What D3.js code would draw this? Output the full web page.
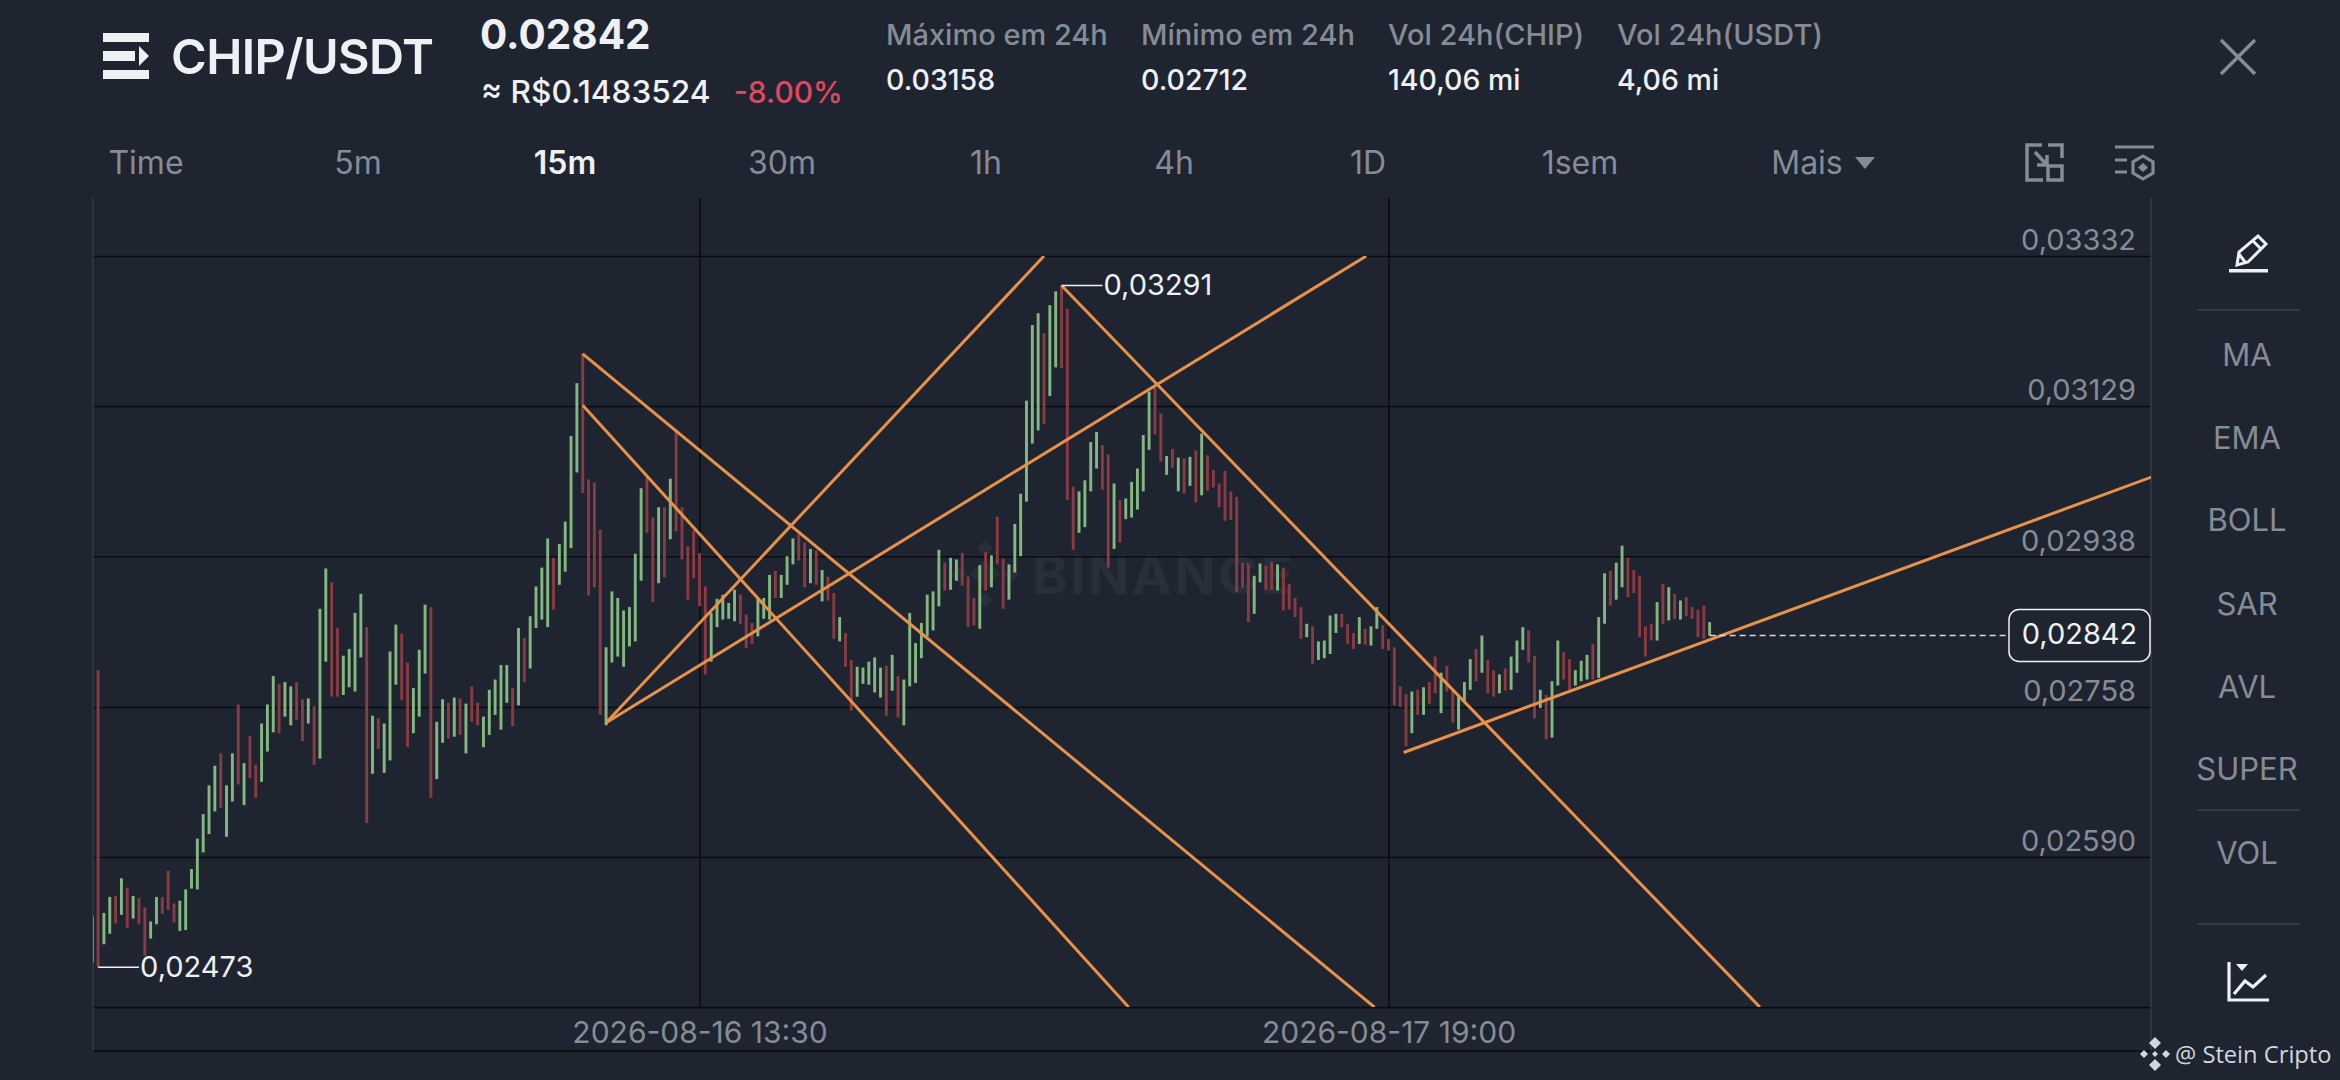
<!DOCTYPE html>
<html>
<head>
<meta charset="utf-8">
<script src="https://cdn.jsdelivr.net/npm/d3@7"></script>
<style>
  html, body { margin: 0; padding: 0; background: #1e2530; overflow: hidden; }
  text { font-family: Inter, "Noto Sans", sans-serif; }
</style>
</head>
<body>
<div id="chart"></div>
<script>
// Bars, in price ticks of 0.00001 USDT, one every 15 minutes
var barHigh = [
  2526,2801,2530,2547,2548,2567,2557,2548,2546,2536,
  2521,2547,2547,2575,2540,2543,2555,2577,2610,2637,
  2669,2691,2705,2669,2705,2761,2694,2725,2692,2739,
  2761,2794,2785,2787,2782,2787,2767,2768,2759,2874,
  2923,2906,2851,2818,2826,2869,2892,2852,2748,2745,
  2739,2823,2855,2844,2810,2780,2825,2879,2876,2741,
  2767,2763,2769,2768,2762,2782,2763,2747,2778,2790,
  2807,2807,2780,2851,2839,2865,2901,2924,2960,2936,
  2953,2981,3090,3159,3199,3034,3030,2971,2828,2895,
  2887,2872,2876,2941,3023,3037,2986,2999,2999,3035,
  3095,2999,2950,2970,2942,2901,2869,2886,2891,2881,
  2897,2891,2867,2857,2887,2887,2915,2920,2915,2938,
  2960,2965,2955,2947,2945,2921,2913,2893,2864,2845,
  2813,2805,2804,2811,2816,2804,2806,2819,2794,2790,
  2869,2833,2857,2891,2895,2946,2930,2936,2934,2942,
  2913,2887,2927,2943,2939,2987,2935,2928,2978,3016,
  3136,3237,3253,3226,3264,3283,3291,3259,3025,3019,
  3033,3082,3095,3078,3066,3029,3008,3010,3031,3048,
  3091,3148,3153,3119,3064,3073,3062,3061,3063,3071,
  3093,3065,3046,3029,3045,3019,3012,2930,2929,2914,
  2929,2926,2931,2928,2924,2904,2887,2876,2856,2853,
  2835,2836,2866,2868,2868,2856,2845,2864,2850,2853,
  2876,2854,2838,2828,2782,2773,2776,2778,2781,2787,
  2817,2798,2806,2778,2771,2787,2814,2826,2842,2813,
  2801,2796,2803,2817,2836,2852,2848,2818,2778,2772,
  2788,2836,2822,2814,2801,2812,2819,2832,2864,2917,
  2920,2930,2951,2936,2921,2914,2853,2856,2882,2904,
  2900,2892,2884,2888,2876,2873,2878,2858
];
var barLow = [
  2478,2473,2497,2508,2519,2528,2514,2524,2518,2485,
  2503,2518,2529,2533,2520,2511,2512,2556,2555,2595,
  2615,2640,2644,2612,2651,2670,2647,2677,2655,2673,
  2707,2729,2728,2747,2737,2743,2719,2739,2692,2699,
  2811,2770,2770,2772,2781,2776,2816,2627,2682,2710,
  2683,2697,2784,2766,2712,2728,2747,2797,2655,2676,
  2717,2722,2724,2726,2705,2741,2737,2712,2726,2749,
  2732,2763,2736,2760,2787,2803,2851,2861,2852,2873,
  2903,2919,2948,3043,3017,2890,2900,2749,2737,2810,
  2817,2805,2829,2835,2908,2967,2882,2905,2912,2959,
  2969,2934,2885,2911,2877,2796,2811,2852,2861,2862,
  2859,2856,2827,2832,2841,2862,2861,2887,2887,2903,
  2928,2933,2900,2905,2903,2883,2884,2838,2835,2805,
  2754,2770,2785,2784,2775,2769,2748,2777,2746,2737,
  2782,2786,2815,2841,2848,2877,2896,2897,2908,2902,
  2852,2854,2850,2896,2900,2928,2874,2885,2918,2938,
  3006,3080,3097,3105,3142,3180,3179,3008,2946,2967,
  2974,3019,3048,3021,2924,2947,2955,2984,2986,2996,
  3019,3072,3092,3057,3040,3049,3019,3016,3026,3005,
  3014,3020,3024,2999,2982,2983,2894,2900,2858,2868,
  2906,2897,2897,2896,2872,2873,2864,2838,2840,2808,
  2813,2815,2820,2845,2852,2832,2826,2832,2831,2830,
  2850,2826,2824,2760,2758,2713,2728,2749,2749,2762,
  2774,2751,2776,2740,2732,2765,2778,2788,2798,2774,
  2770,2774,2777,2778,2798,2825,2810,2745,2757,2721,
  2723,2783,2790,2778,2783,2788,2790,2790,2792,2856,
  2878,2885,2900,2888,2893,2840,2817,2836,2836,2856,
  2860,2862,2861,2865,2862,2840,2838,2842
];
// 1 = closed up (green), 0 = closed down (red)
var barUp = [
  1,0,1,1,0,1,0,1,0,0,
  1,1,0,0,0,1,1,1,1,1,
  1,1,0,1,1,0,1,0,0,1,
  1,1,0,1,1,0,0,1,0,1,
  1,0,0,1,1,1,1,0,1,0,
  1,1,1,0,0,1,1,1,0,1,
  1,0,1,0,1,0,0,1,1,1,
  1,1,0,1,0,1,1,1,1,0,
  1,1,1,1,0,0,0,0,1,1,
  1,1,1,1,1,0,0,1,0,1,
  0,0,0,0,0,0,1,1,1,1,
  1,0,0,0,1,1,1,0,1,1,
  1,0,0,1,0,1,0,0,1,0,
  0,1,1,1,1,1,0,1,0,1,
  1,1,1,1,1,1,0,1,1,0,
  0,0,1,0,1,0,0,1,1,1,
  1,1,1,0,1,1,0,0,0,1,
  1,1,1,0,0,1,0,1,1,1,
  1,1,0,0,1,0,1,0,1,0,
  1,0,0,0,0,0,0,0,0,1,
  1,0,0,1,0,0,0,0,1,0,
  1,1,1,1,0,0,0,1,0,1,
  1,0,0,0,0,0,1,0,1,0,
  0,1,0,0,1,1,1,0,1,0,
  0,1,0,1,1,1,0,0,1,0,
  1,1,0,0,1,1,1,0,1,1,
  0,1,1,0,0,0,0,0,1,0,
  1,0,1,0,0,0,0,1
];
var firstBarTime = "2026-08-15 11:30";
var barMinutes = 15;

// Drawn trend lines: [bar number, price tick] at each end
var trendLines = [
  [[84, 3198], [219.6, 2432]],
  [[84, 3130], [177.5, 2432]],
  [[88, 2740], [163, 3332]],
  [[88, 2740], [218.2, 3332]],
  [[166, 3291], [285.6, 2432]],
  [[224.6, 2706], [353, 3038]]
];

var priceGrid = [3332, 3129, 2938, 2758, 2590, 2432];
var priceLabels = [3332, 3129, 2938, 2758, 2590];
var timeTicks = ["2026-08-16 13:30", "2026-08-17 19:00"];
var lastPrice = 2842;

var pairName = "CHIP/USDT";
var headPrice = "0.02842", headFiat = "≈ R$0.1483524", headChange = "-8.00%";
var statNames = ["Máximo em 24h", "Mínimo em 24h", "Vol 24h(CHIP)", "Vol 24h(USDT)"];
var statValues = ["0.03158", "0.02712", "140,06 mi", "4,06 mi"];
var tabNames = ["Time", "5m", "15m", "30m", "1h", "4h", "1D", "1sem", "Mais"];
var sideNames = ["MA", "EMA", "BOLL", "SAR", "AVL", "SUPER", "VOL"];

var w = 2340, h = 1080;
var bg = "#1e2530", greyText = "#868c96", whiteText = "#eef0f3";
var gridColor = "#0a0c10", borderColor = "#3a414c", orange = "#e8914a";
var green = "#84b782", red = "#8a3a43";

var svg = d3.select("#chart").append("svg").attr("width", w).attr("height", h).style("display", "block");
svg.append("rect").attr("width", w).attr("height", h).attr("fill", bg);

var parseTime = d3.utcParse("%Y-%m-%d %H:%M");
var formatTime = d3.utcFormat("%Y-%m-%d %H:%M");
function barTime(i) {
  return new Date(parseTime(firstBarTime).getTime() + i * barMinutes * 60000);
}

var x = d3.scaleUtc().domain(timeTicks.map(parseTime)).range([699.5, 1388.5]);
var y = d3.scaleLog().domain([3332, 2590]).range([256, 857]);

var left = 93, right = 2151, top_ = 198, plotTop = 256, plotBottom = 1007, axisBottom = 1051;

var comma = d3.formatLocale({ decimal: ",", thousands: ".", grouping: [3], currency: ["", ""] }).format(".5f");
function priceText(t) { return comma(t / 100000); }

svg.append("defs").append("clipPath").attr("id", "plotClip").append("rect")
    .attr("x", left).attr("y", plotTop).attr("width", right - left).attr("height", plotBottom - plotTop);
svg.select("defs").append("clipPath").attr("id", "barClip").append("rect")
    .attr("x", left).attr("y", top_).attr("width", right - left).attr("height", axisBottom - top_);

// Watermark
var mark = svg.append("g").attr("fill", "#292f3a");
mark.append("text").attr("x", 1032).attr("y", 594)
    .attr("font-size", 54).attr("font-weight", 700).attr("letter-spacing", 2.5).text("BINANCE");
mark.selectAll("path").data([[985, 574, 15], [985, 548, 8], [985, 600, 8], [959, 574, 8], [1011, 574, 8]]).enter()
    .append("path")
    .attr("d", function (d) { return "M" + d[0] + "," + (d[1] - d[2]) + "l" + d[2] + "," + d[2] + "l" + (-d[2]) + "," + d[2] + "l" + (-d[2]) + "," + (-d[2]) + "z"; });

// Grid lines and axes
var yAxis = svg.append("g").attr("transform", "translate(" + right + ",0)")
    .call(d3.axisLeft(y).tickValues(priceGrid).tickSize(right - left).tickFormat(function (d) {
      return priceLabels.indexOf(d) >= 0 ? priceText(d) : "";
    }));
yAxis.select(".domain").remove();
yAxis.selectAll("line").attr("stroke", gridColor).attr("stroke-width", 1.6);
yAxis.selectAll("text")
    .attr("x", -15).attr("dy", 0).attr("y", -14).attr("dominant-baseline", "middle")
    .attr("text-anchor", "end").attr("fill", greyText).attr("font-size", 29)
    .style("font-family", "Inter, sans-serif");

var xAxis = svg.append("g").attr("transform", "translate(0," + plotBottom + ")")
    .call(d3.axisBottom(x).tickValues(timeTicks.map(parseTime)).tickSize(-(plotBottom - top_)).tickFormat(formatTime));
xAxis.select(".domain").remove();
xAxis.selectAll("line").attr("stroke", gridColor).attr("stroke-width", 1.6);
xAxis.selectAll("text")
    .attr("y", 28).attr("dy", 0).attr("dominant-baseline", "middle")
    .attr("fill", greyText).attr("font-size", 30)
    .style("font-family", "Inter, sans-serif");

svg.append("line").attr("x1", left).attr("x2", right).attr("y1", axisBottom).attr("y2", axisBottom)
    .attr("stroke", gridColor).attr("stroke-width", 1.6);
svg.selectAll(".border").data([left, right]).enter().append("line").attr("class", "border")
    .attr("x1", function (d) { return d; }).attr("x2", function (d) { return d; })
    .attr("y1", top_).attr("y2", axisBottom)
    .attr("stroke", borderColor).attr("stroke-width", 1.2);

// Bars
var barW = 2.9;
svg.append("g").attr("clip-path", "url(#barClip)").selectAll("rect").data(barHigh).enter().append("rect")
    .attr("x", function (d, i) { return x(barTime(i)) - barW / 2; })
    .attr("y", function (d) { return y(d); })
    .attr("width", barW)
    .attr("height", function (d, i) { return y(barLow[i]) - y(d); })
    .attr("fill", function (d, i) { return barUp[i] ? green : red; });

// Trend lines
svg.append("g").attr("clip-path", "url(#plotClip)").selectAll("line").data(trendLines).enter().append("line")
    .attr("x1", function (d) { return x(barTime(d[0][0])); })
    .attr("y1", function (d) { return y(d[0][1]); })
    .attr("x2", function (d) { return x(barTime(d[1][0])); })
    .attr("y2", function (d) { return y(d[1][1]); })
    .attr("stroke", orange).attr("stroke-width", 3);

// High and low markers
function extremeLabel(value, index) {
  var px = x(barTime(index)), py = y(value);
  svg.append("line").attr("x1", px).attr("x2", px + 41).attr("y1", py).attr("y2", py)
      .attr("stroke", whiteText).attr("stroke-width", 1.5);
  svg.append("text").attr("x", px + 42).attr("y", py + 2).attr("dominant-baseline", "middle")
      .attr("fill", whiteText).attr("font-size", 29).text(priceText(value));
}
var highMax = d3.max(barHigh), lowMin = d3.min(barLow);
extremeLabel(highMax, barHigh.indexOf(highMax));
extremeLabel(lowMin, barLow.indexOf(lowMin));

// Last price
var lastX = x(barTime(barHigh.length - 1)), lastY = y(lastPrice);
svg.append("line").attr("x1", lastX).attr("x2", 2009).attr("y1", lastY).attr("y2", lastY)
    .attr("stroke", "#d8dbe0").attr("stroke-width", 1.5).attr("stroke-dasharray", "6,4");
svg.append("rect").attr("x", 2009).attr("y", lastY - 26).attr("width", 141).attr("height", 52).attr("rx", 10)
    .attr("fill", bg).attr("stroke", whiteText).attr("stroke-width", 1.5);
svg.append("text").attr("x", 2079.5).attr("y", lastY + 1).attr("text-anchor", "middle").attr("dominant-baseline", "middle")
    .attr("fill", whiteText).attr("font-size", 29).text(priceText(lastPrice));

// Header
var head = svg.append("g");
head.selectAll(".menuBar").data([[103, 33, 46, 9], [103, 51, 32, 10], [103, 70, 46, 9]]).enter().append("rect")
    .attr("x", function (d) { return d[0]; }).attr("y", function (d) { return d[1]; })
    .attr("width", function (d) { return d[2]; }).attr("height", function (d) { return d[3]; })
    .attr("fill", whiteText);
head.append("path").attr("d", "M139,46L149,56L139,66Z").attr("fill", whiteText);
head.append("text").attr("x", 171).attr("y", 74).attr("fill", whiteText)
    .attr("font-size", 48.5).attr("font-weight", 600).attr("letter-spacing", -0.6).text(pairName);
head.append("text").attr("x", 480).attr("y", 49).attr("fill", whiteText)
    .attr("font-size", 40.5).attr("font-weight", 700).text(headPrice);
head.append("text").attr("x", 481).attr("y", 103).attr("fill", whiteText)
    .attr("font-size", 31.6).attr("font-weight", 500).text(headFiat);
head.append("text").attr("x", 734).attr("y", 103).attr("fill", "#e0485f")
    .attr("font-size", 30).attr("font-weight", 500).text(headChange);

var statX = [886, 1141, 1388, 1617];
head.selectAll(".statName").data(statNames).enter().append("text").attr("class", "statName")
    .attr("x", function (d, i) { return statX[i]; }).attr("y", 45)
    .attr("fill", greyText).attr("font-size", 29).attr("font-weight", 500)
    .text(function (d) { return d; });
head.selectAll(".statValue").data(statValues).enter().append("text").attr("class", "statValue")
    .attr("x", function (d, i) { return statX[i]; }).attr("y", 90)
    .attr("fill", whiteText).attr("font-size", 28.5).attr("font-weight", 500)
    .text(function (d) { return d; });

head.append("path").attr("d", "M2221,40L2255,74M2255,40L2221,74")
    .attr("stroke", "#868c96").attr("stroke-width", 3.5).attr("fill", "none");

// Interval tabs
var tabX = [146, 358, 565, 782, 986, 1174, 1368, 1580, 1807];
head.selectAll(".tab").data(tabNames).enter().append("text").attr("class", "tab")
    .attr("x", function (d, i) { return tabX[i]; }).attr("y", 174)
    .attr("text-anchor", "middle")
    .attr("fill", function (d) { return d == "15m" ? whiteText : greyText; })
    .attr("font-size", 32).attr("font-weight", function (d) { return d == "15m" ? 600 : 400; })
    .text(function (d) { return d; });
head.append("path").attr("d", "M1855,157L1875,157L1865,169Z").attr("fill", greyText);

head.append("path")
    .attr("d", "M2042,145L2027,145L2027,180L2043,180M2048,145L2062,145L2062,158M2035,152L2047,165M2047,155L2047,165L2037,165")
    .attr("stroke", greyText).attr("stroke-width", 3.5).attr("fill", "none");
head.append("rect").attr("x", 2048).attr("y", 166).attr("width", 14).attr("height", 14)
    .attr("stroke", greyText).attr("stroke-width", 3.5).attr("fill", "none");
head.append("path")
    .attr("d", "M2115,147L2154,147M2115,160L2127,160M2115,172L2127,172M2143,156L2153,162L2153,173L2143,179L2133,173L2133,162Z")
    .attr("stroke", greyText).attr("stroke-width", 3.2).attr("fill", "none");
head.append("path").attr("d", "M2143,163L2148,167.5L2143,172L2138,167.5Z").attr("fill", greyText);

// Side panel
var sideY = [354, 437, 519, 603, 686, 768, 852];
var side = svg.append("g");
side.selectAll(".sideName").data(sideNames).enter().append("text").attr("class", "sideName")
    .attr("x", 2247).attr("y", function (d, i) { return sideY[i] + 12; })
    .attr("text-anchor", "middle").attr("fill", greyText).attr("font-size", 31)
    .text(function (d) { return d; });
side.selectAll(".sep").data([310, 810, 924]).enter().append("line").attr("class", "sep")
    .attr("x1", 2197).attr("x2", 2300)
    .attr("y1", function (d) { return d; }).attr("y2", function (d) { return d; })
    .attr("stroke", "#3a414c").attr("stroke-width", 1.3);
// pencil
side.append("path").attr("d", "M2237,265L2239,252L2258,236L2266,244L2248,262Z M2253,241L2261,249 M2239,254L2245,262")
    .attr("stroke", whiteText).attr("stroke-width", 3).attr("fill", "none");
side.append("rect").attr("x", 2229).attr("y", 269).attr("width", 39).attr("height", 3.5).attr("fill", whiteText);
// chart type icon
side.append("path").attr("d", "M2229,962L2229,1000L2269,1000M2234,994L2245,981L2253,987L2266,975")
    .attr("stroke", whiteText).attr("stroke-width", 3.2).attr("fill", "none");
side.append("path").attr("d", "M2236,964L2248,964L2242,971Z").attr("fill", whiteText);

// Author tag
var tag = svg.append("g").attr("fill", "#d3d6da");
tag.selectAll("path").data([[2155, 1043, 6], [2155, 1065, 6], [2144, 1054, 4], [2166, 1054, 4], [2155, 1054, 3]]).enter().append("path")
    .attr("d", function (d) { return "M" + d[0] + "," + (d[1] - d[2]) + "l" + d[2] + "," + d[2] + "l" + (-d[2]) + "," + d[2] + "l" + (-d[2]) + "," + (-d[2]) + "z"; });
tag.append("text").attr("x", 2175).attr("y", 1063).attr("font-size", 23.7)
    .style("font-family", "'Open Sans', sans-serif").text("@ Stein Cripto");
</script>
</body>
</html>
